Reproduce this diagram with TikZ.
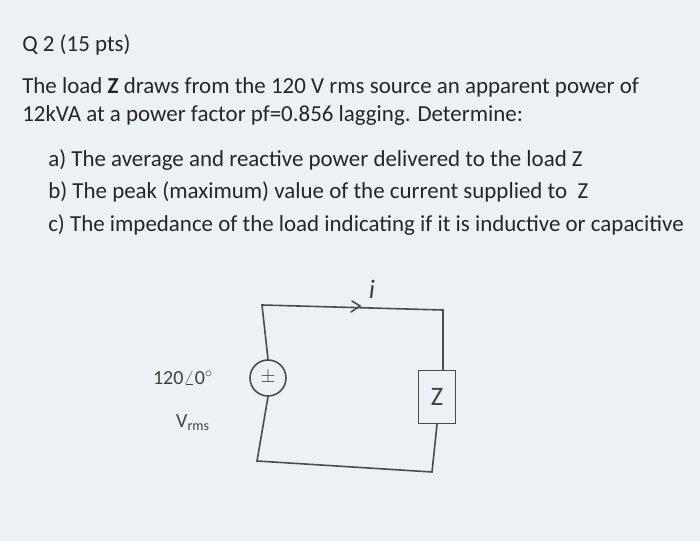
\documentclass[tikz,border=0pt]{standalone}
\usepackage{fontspec}
\setmainfont{Carlito}
\begin{document}
\begin{tikzpicture}[x=0.75pt,y=-0.75pt,
  txt/.style={anchor=west,inner sep=0,font=\fontsize{17.2}{20}\selectfont,text=black!85},
  hand/.style={font=\fontsize{15}{17}\selectfont,text=black!75},
  wire/.style={draw=black!70,line width=1.2pt,line cap=round}]
\fill[color={rgb,255:red,236;green,241;blue,246}] (0,0) rectangle (700,541);
\useasboundingbox (0,0) rectangle (700,541);
\node[txt] (q) at (22,45) {Q 2 (15 pts)};
\node[txt] (l1) at (22,87) {The load \textbf{Z} draws from the 120 V rms source an apparent power of};
\node[txt] (l2) at (22,116) {12kVA at a power factor pf=0.856 lagging. Determine:};
\node[txt] (a) at (48,160) {a) The average and reactive power delivered to the load Z};
\node[txt] (b) at (48,192) {b) The peak (maximum) value of the current supplied to~ Z};
\node[txt] (c) at (48,225) {c) The impedance of the load indicating if it is inductive or capacitive};
% circuit
\node[draw=black!70,line width=1.2pt,circle,minimum size=27pt,inner sep=0,hand] (src) at (268,378) {$\pm$};
\coordinate (tl) at (262,305);
\coordinate (tr) at (443,310);
\coordinate (bl) at (257,461);
\coordinate (br) at (432,472);
\node[draw=black!70,line width=1.2pt,minimum width=28pt,minimum height=40pt,hand,font=\fontsize{20}{22}\selectfont] (z) at (437,397) {Z};
\draw[wire] (src.north) -- (tl) -- (tr) -- (tr|-z.north);
\draw[wire] (z.south) -- (br) -- (bl) -- (src.south);
\draw[wire] (352,301) -- (360,306) -- (351,312);
\node[hand,font=\fontsize{20}{22}\selectfont\itshape] (i) at (372,289) {i};
\node[hand] (v1) at (183,378) {120$\angle$0$^\circ$};
\node[hand] (v2) at (193,423) {V$_{\mathrm{rms}}$};
\end{tikzpicture}
\end{document}
